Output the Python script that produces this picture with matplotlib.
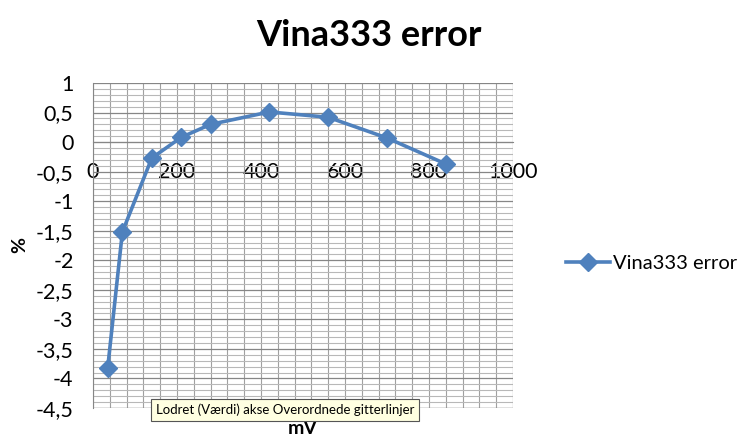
import numpy as np
import matplotlib
matplotlib.use("Agg")
import matplotlib.pyplot as plt
from matplotlib.ticker import MultipleLocator, FuncFormatter

# data
mv = [35, 70, 140, 210, 280, 420, 560, 700, 840]
error_pct = [-3.82, -1.52, -0.27, 0.08, 0.30, 0.51, 0.42, 0.07, -0.37]
series_name = "Vina333 error"

plt.rcParams['font.family'] = ['Lato', 'DejaVu Sans']

BLUE = "#4F81BD"

fig = plt.figure(figsize=(7.46, 4.38), dpi=100)
ax = fig.add_axes([93 / 746, 1 - 408 / 438, 420 / 746, 325 / 438])

ax.plot(mv, error_pct, color=BLUE, lw=2.6, marker="D", markersize=9,
        label=series_name, zorder=3, clip_on=False)

ax.set_xlim(0, 1000)
ax.set_ylim(-4.5, 1)
ax.xaxis.set_major_locator(MultipleLocator(200))
ax.xaxis.set_minor_locator(MultipleLocator(40))
ax.yaxis.set_major_locator(MultipleLocator(0.5))
ax.yaxis.set_minor_locator(MultipleLocator(0.1))

# comma decimals like the danish excel
ax.yaxis.set_major_formatter(FuncFormatter(
    lambda v, p: ("%g" % round(v, 2)).replace(".", ",")))

ax.grid(which="major", axis="y", color="#868686", lw=0.9)
ax.grid(which="minor", axis="y", color="#b8b8b8", lw=0.8)
ax.grid(which="major", axis="x", color="#a0a0a0", lw=0.8)
ax.grid(which="minor", axis="x", color="#a0a0a0", lw=0.8)
ax.set_axisbelow(True)

for s in ["top", "right"]:
    ax.spines[s].set_visible(False)
ax.spines["bottom"].set_position(("data", 0))
ax.spines["bottom"].set_color("#868686")
ax.spines["left"].set_color("#868686")

ax.tick_params(which="both", length=0)
ax.tick_params(axis="x", labelsize=15.5, pad=14)
ax.tick_params(axis="y", labelsize=15.5, pad=14)

# right edge and bottom edge lines of the plot area
ax.axvline(1000, color="#a0a0a0", lw=0.8, zorder=1)
ax.axhline(-4.5, color="#868686", lw=0.9, zorder=1)

fig.text(0.495, 1 - 35 / 438, series_name, ha="center", va="center",
         fontsize=26, fontweight="bold")
fig.text(20 / 746, 1 - 245 / 438, "%", rotation=90, ha="center",
         va="center", fontsize=14, fontweight="bold")
fig.text(303 / 746, 1 - 428 / 438, "mV", ha="center", va="center",
         fontsize=14, fontweight="bold", zorder=1)

ax.legend(loc="center left", bbox_to_anchor=(566 / 746, 1 - 263 / 438),
          bbox_transform=fig.transFigure, frameon=False, fontsize=14.5,
          handlelength=2.2, handletextpad=0.15, borderaxespad=0,
          borderpad=0)

# hover tooltip left in the screenshot
fig.text(156 / 746, 1 - 410 / 438, "Lodret (Værdi) akse Overordnede gitterlinjer",
         ha="left", va="center", fontsize=9.5, zorder=10,
         bbox=dict(boxstyle="square,pad=0.35", facecolor="#FFFFE1",
                   edgecolor="#555555", lw=0.8))

fig.savefig("out.png", dpi=100)
